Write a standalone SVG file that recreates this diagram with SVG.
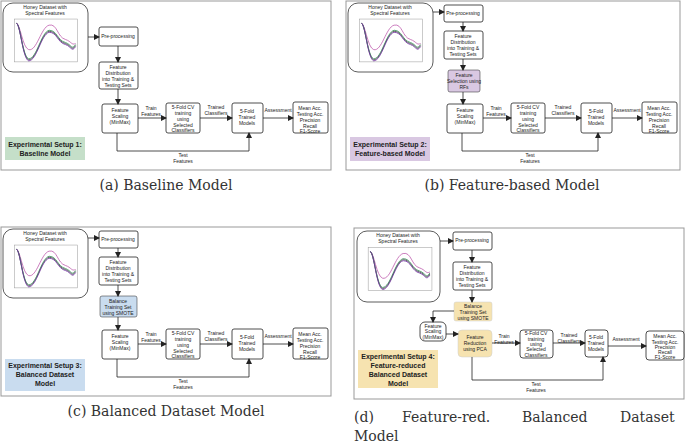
<svg xmlns="http://www.w3.org/2000/svg" width="685" height="447" viewBox="0 0 685 447">
<style>
.fr{fill:none;stroke:#999;stroke-width:1}
.bx{fill:#fff;stroke:#222;stroke-width:0.8}
.ds{fill:#fff;stroke:#333;stroke-width:0.8}
.t{font-family:"Liberation Sans",Arial,sans-serif;font-size:5px;fill:#222;text-anchor:middle}
.lb{font-family:"Liberation Sans",Arial,sans-serif;font-size:7px;font-weight:bold;fill:#222;text-anchor:middle}
.cap{font-family:"DejaVu Serif","Liberation Serif",serif;font-size:14px;fill:#333;text-anchor:middle}
.cs{text-anchor:start}
.c{fill:none;stroke:#222;stroke-width:0.8;marker-end:url(#ar)}
.cv{fill:none;stroke-width:0.8}
</style>
<defs>
<marker id="ar" markerWidth="6" markerHeight="6" refX="5" refY="3" orient="auto" markerUnits="userSpaceOnUse"><path d="M0,0L6,3L0,6z" fill="#222"/></marker>
<symbol id="chart" viewBox="0 0 70 50">
<rect x="6" y="2" width="62" height="42" fill="#fff" stroke="#999" stroke-width="0.5"/>
<path class="cv" stroke="#c060b0" d="M8,6 C12,8 14,30 20,32 C28,34 32,10 40,8 C48,6 48,20 56,22 C62,24 62,28 66,26"/>
<path class="cv" stroke="#444" d="M8,6 C12,8 14,40 20,42 C28,42 32,16 40,14 C48,14 48,24 56,26 C62,28 62,34 66,28"/>
<path class="cv" stroke="#3a8a5a" d="M8,6 C12,8 14,39 20,41 C28,41 32,15 40,13 C48,13 48,23 56,25 C62,27 62,33 66,27"/>
<path class="cv" stroke="#7030a0" d="M8,6 C12,8 14,41 20,43 C28,43 32,17 40,15 C48,15 48,25 56,27 C62,29 62,35 66,29"/>
</symbol>
</defs>

<!-- Panel A -->
<g id="panelA">
<rect class="fr" x="1" y="1" width="330" height="169"/>
<g id="a-dataset"><rect class="ds" x="3" y="3" width="85" height="69" rx="10"/><text class="t" x="45" y="9">Honey Dataset with</text><text class="t" x="45" y="15">Spectral Features</text><use href="#chart" x="8" y="17" width="72" height="51"/></g>
<g id="a-pre"><rect class="bx" x="99" y="27" width="39" height="19" rx="2"/><text class="t" x="118" y="38">Pre-processing</text></g>
<g id="a-dist"><rect class="bx" x="99" y="62" width="39" height="27" rx="2"/><text class="t" x="118" y="69">Feature</text><text class="t" x="118" y="75">Distribution</text><text class="t" x="118" y="81">into Training &amp;</text><text class="t" x="118" y="87">Testing Sets</text></g>
<g id="a-scale"><rect class="bx" x="102" y="104" width="36" height="29" rx="2"/><text class="t" x="120" y="112">Feature</text><text class="t" x="120" y="118">Scaling</text><text class="t" x="120" y="124">(MinMax)</text></g>
<g id="a-cv"><rect class="bx" x="166" y="103" width="34" height="30" rx="2"/><text class="t" x="183" y="109">5-Fold CV</text><text class="t" x="183" y="115">training</text><text class="t" x="183" y="121">using</text><text class="t" x="183" y="127">Selected</text><text class="t" x="183" y="132">Classifiers</text></g>
<g id="a-tm"><rect class="bx" x="232" y="103" width="31" height="30" rx="2"/><text class="t" x="247" y="113">5-Fold</text><text class="t" x="247" y="119">Trained</text><text class="t" x="247" y="125">Models</text></g>
<g id="a-mean"><rect class="bx" x="293" y="102" width="35" height="31" rx="2"/><text class="t" x="310" y="110">Mean Acc.</text><text class="t" x="310" y="116">Testing Acc.</text><text class="t" x="310" y="122">Precision</text><text class="t" x="310" y="128">Recall</text><text class="t" x="310" y="133">F1-Score</text></g>
<g id="a-label"><rect x="5" y="137" width="80" height="23" fill="#c5dfc9"/><text class="lb" x="45" y="147">Experimental Setup 1:</text><text class="lb" x="45" y="156">Baseline Model</text></g>
<g id="a-conn">
<path class="c" d="M88,37H99"/><path class="c" d="M118,46V62"/><path class="c" d="M118,89V104"/>
<path class="c" d="M138,118H166"/><path class="c" d="M200,118H232"/><path class="c" d="M263,118H293"/>
<path class="c" d="M117,133V151H249V133"/>
<text class="t" x="151" y="110">Train</text><text class="t" x="151" y="116">Features</text>
<text class="t" x="216" y="109">Trained</text><text class="t" x="216" y="115">Classifiers</text>
<text class="t" x="278" y="112">Assessment</text>
<text class="t" x="183" y="157">Test</text><text class="t" x="183" y="163">Features</text>
</g>
</g>
<text class="cap" x="166" y="190">(a) Baseline Model</text>

<!-- Panel B -->
<g id="panelB" transform="translate(345,0)">
<rect class="fr" x="1" y="1" width="334" height="169"/>
<g id="b-dataset"><rect class="ds" x="3" y="3" width="85" height="69" rx="10"/><text class="t" x="45" y="9">Honey Dataset with</text><text class="t" x="45" y="15">Spectral Features</text><use href="#chart" x="8" y="17" width="72" height="51"/></g>
<g id="b-pre"><rect class="bx" x="99" y="5" width="39" height="17" rx="2"/><text class="t" x="118" y="15">Pre-processing</text></g>
<g id="b-dist"><rect class="bx" x="99" y="31" width="39" height="28" rx="2"/><text class="t" x="118" y="38">Feature</text><text class="t" x="118" y="44">Distribution</text><text class="t" x="118" y="50">into Training &amp;</text><text class="t" x="118" y="56">Testing Sets</text></g>
<g id="b-sel"><rect x="103" y="70" width="32" height="22" rx="2" fill="#d9c8e2" stroke="#222" stroke-width="0.5"/><text class="t" x="119" y="77">Feature</text><text class="t" x="119" y="83">Selection using</text><text class="t" x="119" y="89">RFs</text></g>
<g id="b-scale"><rect class="bx" x="102" y="104" width="36" height="29" rx="2"/><text class="t" x="120" y="112">Feature</text><text class="t" x="120" y="118">Scaling</text><text class="t" x="120" y="124">(MinMax)</text></g>
<g id="b-cv"><rect class="bx" x="166" y="103" width="34" height="30" rx="2"/><text class="t" x="183" y="109">5-Fold CV</text><text class="t" x="183" y="115">training</text><text class="t" x="183" y="121">using</text><text class="t" x="183" y="127">Selected</text><text class="t" x="183" y="132">Classifiers</text></g>
<g id="b-tm"><rect class="bx" x="236" y="103" width="31" height="30" rx="2"/><text class="t" x="251" y="113">5-Fold</text><text class="t" x="251" y="119">Trained</text><text class="t" x="251" y="125">Models</text></g>
<g id="b-mean"><rect class="bx" x="297" y="102" width="35" height="31" rx="2"/><text class="t" x="314" y="110">Mean Acc.</text><text class="t" x="314" y="116">Testing Acc.</text><text class="t" x="314" y="122">Precision</text><text class="t" x="314" y="128">Recall</text><text class="t" x="314" y="133">F1-Score</text></g>
<g id="b-label"><rect x="5" y="137" width="80" height="24" fill="#d9c8e2"/><text class="lb" x="45" y="147">Experimental Setup 2:</text><text class="lb" x="45" y="156">Feature-based Model</text></g>
<g id="b-conn">
<path class="c" d="M88,12H99"/><path class="c" d="M118,22V31"/><path class="c" d="M118,59V70"/><path class="c" d="M118,92V104"/>
<path class="c" d="M138,118H166"/><path class="c" d="M200,118H236"/><path class="c" d="M267,118H297"/>
<path class="c" d="M117,133V151H253V133"/>
<text class="t" x="151" y="110">Train</text><text class="t" x="151" y="116">Features</text>
<text class="t" x="218" y="109">Trained</text><text class="t" x="218" y="115">Classifiers</text>
<text class="t" x="282" y="112">Assessment</text>
<text class="t" x="185" y="157">Test</text><text class="t" x="185" y="163">Features</text>
</g>
</g>
<text class="cap" x="512" y="190">(b) Feature-based Model</text>

<!-- Panel C -->
<g id="panelC" transform="translate(0,226)">
<rect class="fr" x="1" y="1" width="330" height="169"/>
<g id="c-dataset"><rect class="ds" x="3" y="3" width="85" height="69" rx="10"/><text class="t" x="45" y="9">Honey Dataset with</text><text class="t" x="45" y="15">Spectral Features</text><use href="#chart" x="8" y="17" width="72" height="51"/></g>
<g id="c-pre"><rect class="bx" x="99" y="5" width="39" height="17" rx="2"/><text class="t" x="118" y="15">Pre-processing</text></g>
<g id="c-dist"><rect class="bx" x="99" y="31" width="39" height="28" rx="2"/><text class="t" x="118" y="38">Feature</text><text class="t" x="118" y="44">Distribution</text><text class="t" x="118" y="50">into Training &amp;</text><text class="t" x="118" y="56">Testing Sets</text></g>
<g id="c-bal"><rect x="100" y="70" width="37" height="21" rx="2" fill="#c9dcef" stroke="#222" stroke-width="0.5"/><text class="t" x="118" y="77">Balance</text><text class="t" x="118" y="83">Training Set</text><text class="t" x="118" y="89">using SMOTE</text></g>
<g id="c-scale"><rect class="bx" x="102" y="104" width="36" height="29" rx="2"/><text class="t" x="120" y="112">Feature</text><text class="t" x="120" y="118">Scaling</text><text class="t" x="120" y="124">(MinMax)</text></g>
<g id="c-cv"><rect class="bx" x="166" y="103" width="34" height="30" rx="2"/><text class="t" x="183" y="109">5-Fold CV</text><text class="t" x="183" y="115">training</text><text class="t" x="183" y="121">using</text><text class="t" x="183" y="127">Selected</text><text class="t" x="183" y="132">Classifiers</text></g>
<g id="c-tm"><rect class="bx" x="232" y="103" width="31" height="30" rx="2"/><text class="t" x="247" y="113">5-Fold</text><text class="t" x="247" y="119">Trained</text><text class="t" x="247" y="125">Models</text></g>
<g id="c-mean"><rect class="bx" x="293" y="102" width="35" height="31" rx="2"/><text class="t" x="310" y="110">Mean Acc.</text><text class="t" x="310" y="116">Testing Acc.</text><text class="t" x="310" y="122">Precision</text><text class="t" x="310" y="128">Recall</text><text class="t" x="310" y="133">F1-Score</text></g>
<g id="c-label"><rect x="5" y="133" width="80" height="32" fill="#c9dcef"/><text class="lb" x="45" y="142">Experimental Setup 3:</text><text class="lb" x="45" y="151">Balanced Dataset</text><text class="lb" x="45" y="160">Model</text></g>
<g id="c-conn">
<path class="c" d="M88,12H99"/><path class="c" d="M118,22V31"/><path class="c" d="M118,59V70"/><path class="c" d="M118,91V104"/>
<path class="c" d="M138,118H166"/><path class="c" d="M200,118H232"/><path class="c" d="M263,118H293"/>
<path class="c" d="M117,133V151H249V133"/>
<text class="t" x="151" y="110">Train</text><text class="t" x="151" y="116">Features</text>
<text class="t" x="216" y="109">Trained</text><text class="t" x="216" y="115">Classifiers</text>
<text class="t" x="278" y="112">Assessment</text>
<text class="t" x="183" y="157">Test</text><text class="t" x="183" y="163">Features</text>
</g>
</g>
<text class="cap" x="166" y="416">(c) Balanced Dataset Model</text>

<!-- Panel D -->
<g id="panelD">
<rect class="fr" x="354" y="228" width="330" height="171"/>
<g id="d-dataset"><rect class="ds" x="357" y="231" width="83" height="71" rx="10"/><text class="t" x="398" y="237">Honey Dataset with</text><text class="t" x="398" y="243">Spectral Features</text><use href="#chart" x="362" y="245" width="72" height="52"/></g>
<g id="d-pre"><rect class="bx" x="453" y="232" width="39" height="18" rx="2"/><text class="t" x="472" y="242">Pre-processing</text></g>
<g id="d-dist"><rect class="bx" x="453" y="262" width="39" height="28" rx="2"/><text class="t" x="472" y="269">Feature</text><text class="t" x="472" y="275">Distribution</text><text class="t" x="472" y="281">into Training &amp;</text><text class="t" x="472" y="287">Testing Sets</text></g>
<g id="d-bal"><rect x="454" y="302" width="38" height="19" rx="2" fill="#f6e3b0" stroke="#ccc" stroke-width="0.5"/><text class="t" x="473" y="308">Balance</text><text class="t" x="473" y="314">Training Set</text><text class="t" x="473" y="320">using SMOTE</text></g>
<g id="d-scale"><rect class="bx" x="420" y="322" width="26" height="19" rx="5"/><text class="t" x="433" y="328">Feature</text><text class="t" x="433" y="333">Scaling</text><text class="t" x="433" y="339">(MinMax)</text></g>
<g id="d-red"><rect x="458" y="330" width="34" height="27" rx="4" fill="#f6e3b0" stroke="#ccc" stroke-width="0.5"/><text class="t" x="475" y="339">Feature</text><text class="t" x="475" y="345">Reduction</text><text class="t" x="475" y="351">using PCA</text></g>
<g id="d-cv"><rect class="bx" x="520" y="330" width="33" height="28" rx="3"/><text class="t" x="536" y="335">5-Fold CV</text><text class="t" x="536" y="341">training</text><text class="t" x="536" y="346">using</text><text class="t" x="536" y="351">Selected</text><text class="t" x="536" y="357">Classifiers</text></g>
<g id="d-tm"><rect class="bx" x="585" y="330" width="23" height="27" rx="3"/><text class="t" x="596" y="339">5-Fold</text><text class="t" x="596" y="345">Trained</text><text class="t" x="596" y="351">Models</text></g>
<g id="d-mean"><rect class="bx" x="646" y="331" width="38" height="29" rx="3"/><text class="t" x="665" y="338">Mean Acc.</text><text class="t" x="665" y="344">Testing Acc.</text><text class="t" x="665" y="349">Precision</text><text class="t" x="665" y="354">Recall</text><text class="t" x="665" y="359">F1-Score</text></g>
<g id="d-label"><rect x="358" y="350" width="80" height="38" fill="#f6e3b0"/><text class="lb" x="398" y="359">Experimental Setup 4:</text><text class="lb" x="398" y="368">Feature-reduced</text><text class="lb" x="398" y="377">Balanced Dataset</text><text class="lb" x="398" y="386">Model</text></g>
<g id="d-conn">
<path class="c" d="M440,241H453"/><path class="c" d="M472,250V262"/><path class="c" d="M472,290V302"/>
<path class="c" d="M454,311H433V322"/><path class="c" d="M446,334H458"/>
<path class="c" d="M492,343H520"/><path class="c" d="M553,343H585"/><path class="c" d="M608,346H646"/>
<path class="c" d="M472,357V380H603V357"/>
<text class="t" x="504" y="338">Train</text><text class="t" x="504" y="344">Features</text>
<text class="t" x="569" y="337">Trained</text><text class="t" x="569" y="343">Classifiers</text>
<text class="t" x="626" y="341">Assessment</text>
<text class="t" x="536" y="386">Test</text><text class="t" x="536" y="392">Features</text>
</g>
</g>
<text class="cap cs" y="422"><tspan x="354">(d)</tspan><tspan x="402">Feature-red.</tspan><tspan x="522">Balanced</tspan><tspan x="620">Dataset</tspan></text>
<text class="cap cs" x="354" y="441">Model</text>
</svg>
